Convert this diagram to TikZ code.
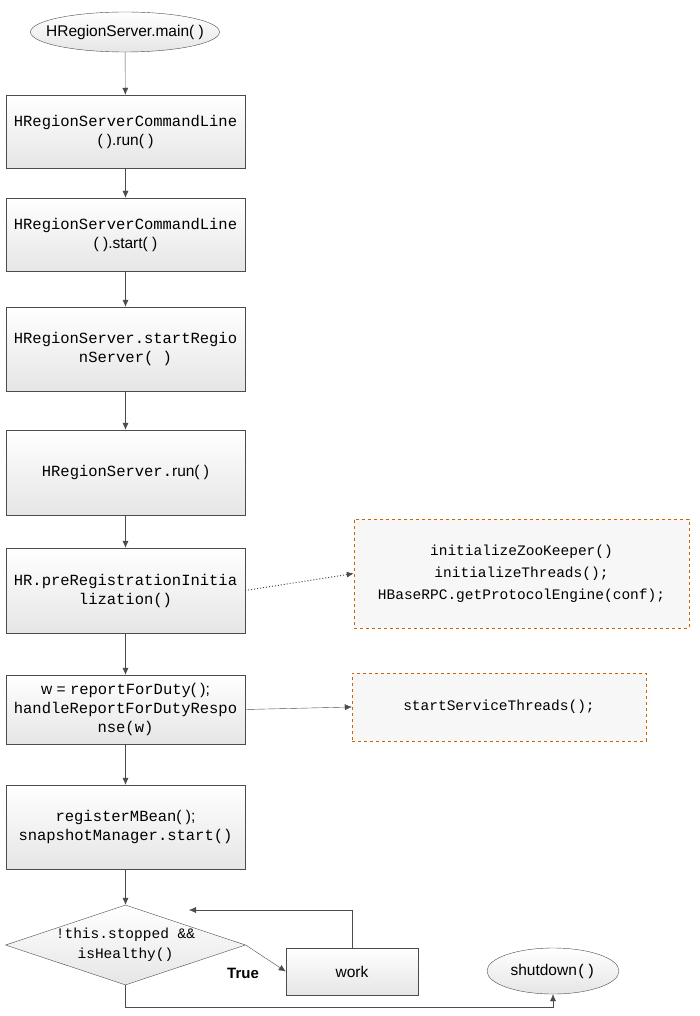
\documentclass[tikz,border=0pt]{standalone}
\usepackage{fontspec}
\setmainfont{Liberation Sans}
\newfontfamily\mono{Liberation Mono}
\usetikzlibrary{shapes.geometric,arrows.meta}
\begin{document}
\begin{tikzpicture}[x=1pt,y=-1pt,
  box/.style={draw=black!70,top color=white,bottom color=black!10,align=center,font=\mono\fontsize{15.5}{19}\selectfont,inner sep=0pt},
  obox/.style={draw=orange!80!black,dashed,fill=black!3,align=center,font=\mono\fontsize{14.5}{22}\selectfont,inner sep=0pt},
  ell/.style={ellipse,draw=black!70,top color=white,bottom color=black!10,font=\fontsize{15.5}{18}\selectfont,inner sep=-12pt},
  arr/.style={draw=black!70,-{Latex[length=7pt,width=6pt]}}]
\useasboundingbox (0,0) rectangle (700,1016);
\node[ell,minimum width=186,minimum height=40] (m) at (125,32) {HRegionServer.main( )};
\node[box,minimum width=239,minimum height=73] (b1) at (125.5,131.5) {HRegionServerCommandLine\\{\rmfamily( ).run( )}};
\node[box,minimum width=239,minimum height=73] (b2) at (125.5,234.5) {HRegionServerCommandLine\\{\rmfamily( ).start( )}};
\node[box,minimum width=239,minimum height=84] (b3) at (125.5,349) {HRegionServer.startRegio\\nServer( )};
\node[box,minimum width=239,minimum height=85] (b4) at (125.5,472.5) {HRegionServer.{\rmfamily run( )}};
\node[box,minimum width=239,minimum height=85] (b5) at (125.5,590.5) {HR.preRegistrationInitia\\lization()};
\node[box,minimum width=239,minimum height=69] (b6) at (125.5,709.5) {{\rmfamily w = }reportForDuty{\rmfamily( );}\\handleReportForDutyRespo\\nse(w)};
\node[box,minimum width=239,minimum height=84] (b7) at (125.5,827) {registerMBean{\rmfamily( );}\\snapshotManager.start()};
\node[diamond,draw=black!70,top color=white,bottom color=black!10,minimum width=240,minimum height=80,inner sep=0pt,align=center,font=\mono\fontsize{14.5}{20}\selectfont,aspect=3] (d) at (125.5,945) {!this.stopped \&\&\\isHealthy()};
\node[box,font=\fontsize{15.5}{18}\selectfont,minimum width=132,minimum height=47] (w) at (352,971.5) {work};
\node[ell,minimum width=132,minimum height=46,inner sep=-6pt] (s) at (553,971) {shutdown{\mono()}};
\node[obox,minimum width=335,minimum height=109] (o1) at (521.5,573.5) {initializeZooKeeper()\\initializeThreads();\\HBaseRPC.getProtocolEngine(conf);};
\node[obox,minimum width=294,minimum height=68] (o2) at (499,707) {startServiceThreads();};
\draw[arr] (m) -- (b1);
\draw[arr] (b1) -- (b2);
\draw[arr] (b2) -- (b3);
\draw[arr] (b3) -- (b4);
\draw[arr] (b4) -- (b5);
\draw[arr] (b5) -- (b6);
\draw[arr] (b6) -- (b7);
\draw[arr] (b7) -- (d.north);
\draw[arr,dotted,line width=1pt] (b5.east) -- (o1.west);
\draw[arr] (b6.east) -- (o2.west);
\draw[arr] (d.east) -- (w.west);
\node[font=\bfseries\fontsize{15}{18}\selectfont] (t) at (243,973) {True};
\coordinate (c1) at (352,910);
\coordinate (c2) at (189,910);
\draw[arr] (w.north) -- (c1) -- (c2);
\coordinate (c3) at (125.5,1007);
\coordinate (c4) at (553,1007);
\draw[arr] (d.south) -- (c3) -- (c4) -- (s.south);
\end{tikzpicture}
\end{document}
